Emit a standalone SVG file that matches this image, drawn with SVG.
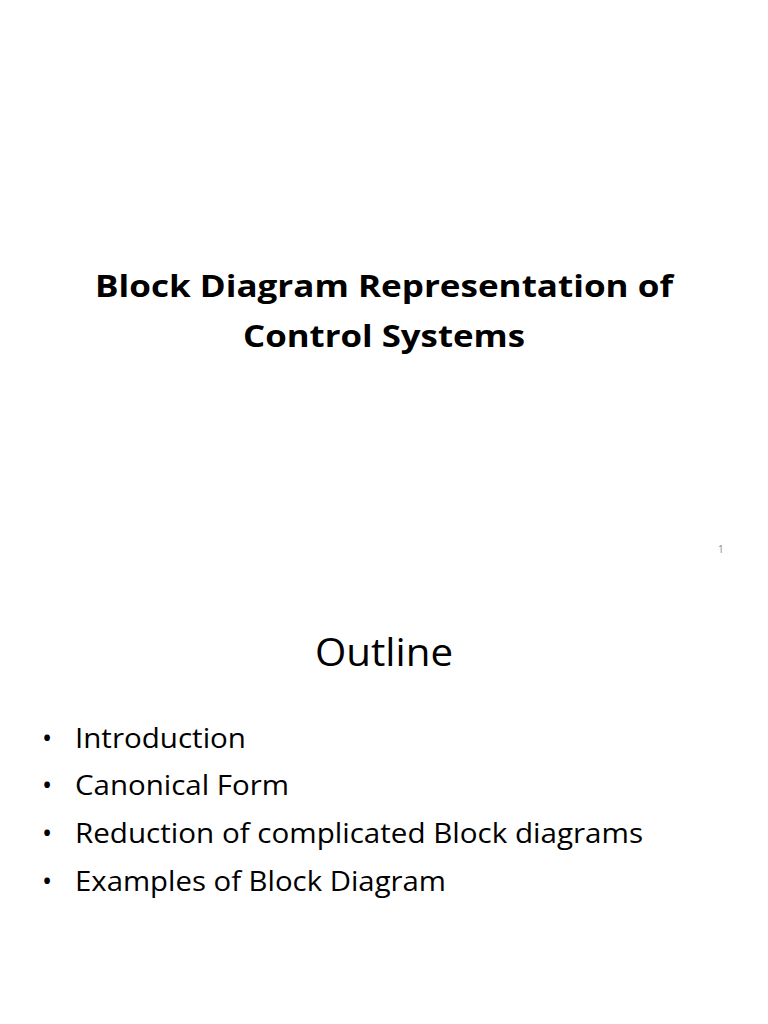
<svg xmlns="http://www.w3.org/2000/svg" width="768" height="1024" viewBox="0 0 768 1024">
<style>
text{font-family:"Open Sans","Liberation Sans",sans-serif;fill:#000}
.t{font-size:31px;font-weight:bold;text-anchor:middle}
.b{font-size:27px}
</style>
<rect width="768" height="1024" fill="#fff"/>
<g id="title">
<text class="t" x="384" y="297" textLength="578" lengthAdjust="spacingAndGlyphs">Block Diagram Representation of</text>
<text class="t" x="384" y="347" textLength="282" lengthAdjust="spacingAndGlyphs">Control Systems</text>
</g>
<text x="718" y="553" font-size="10" fill="#888" style="fill:#888">1</text>
<text x="384" y="666" font-size="38" text-anchor="middle" textLength="138" lengthAdjust="spacingAndGlyphs">Outline</text>
<g id="bullets" class="b">
<text x="42" y="748">•</text><text x="75" y="748" textLength="171" lengthAdjust="spacingAndGlyphs">Introduction</text>
<text x="42" y="795">•</text><text x="75" y="795" textLength="214" lengthAdjust="spacingAndGlyphs">Canonical Form</text>
<text x="42" y="843">•</text><text x="75" y="843" textLength="568" lengthAdjust="spacingAndGlyphs">Reduction of complicated Block diagrams</text>
<text x="42" y="891">•</text><text x="75" y="891" textLength="371" lengthAdjust="spacingAndGlyphs">Examples of Block Diagram</text>
</g>
</svg>
